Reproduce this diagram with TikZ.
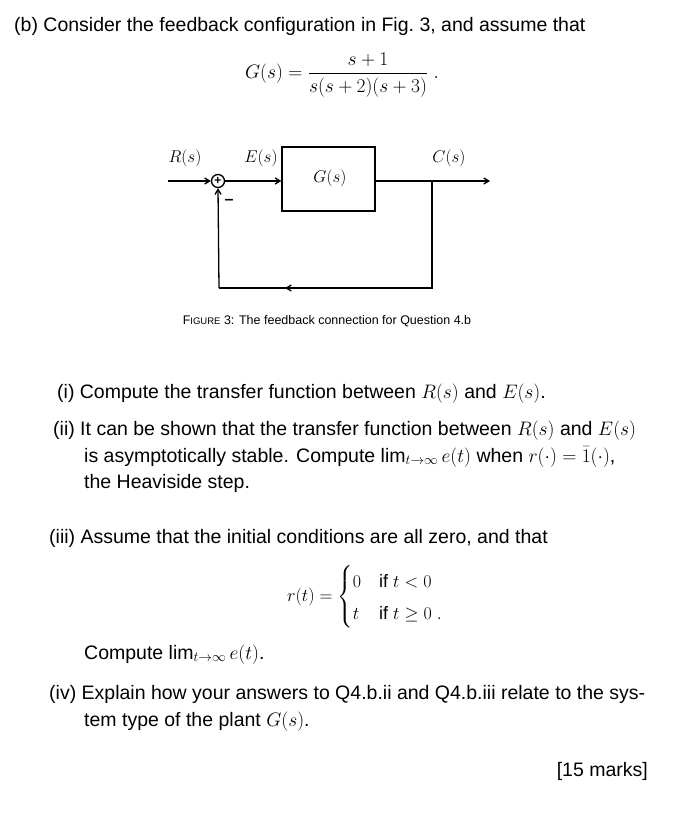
\documentclass[tikz,border=0pt]{standalone}
\usepackage{fix-cm}
\usepackage{amsmath}
\usepackage{fontspec}
\setmainfont{Liberation Sans}
\usetikzlibrary{arrows.meta}
\begin{document}
\begin{tikzpicture}[x=1pt,y=-1pt,
  txt/.style={anchor=base west,inner sep=0pt,font=\fontsize{19.5}{27}\selectfont},
  lab/.style={inner sep=0pt,font=\fontsize{17}{20}\selectfont},
  wire/.style={line width=1.3pt},
  arr/.style={wire,-{Straight Barb[length=5pt,width=6pt]}}]
\useasboundingbox (0,0) rectangle (690,814);
\node[txt] (t1) at (14,31) {(b) Consider the feedback configuration in Fig.~3, and assume that};
\node[inner sep=0pt,font=\fontsize{19.5}{27}\selectfont] (eq1) at (342,75) {$\displaystyle G(s)=\frac{s+1}{s(s+2)(s+3)}\;.$};
% diagram
\coordinate (in) at (168,181);
\node[draw,circle,wire,minimum size=13pt,inner sep=0pt] (sum) at (218,181) {};
\node[font=\fontsize{12}{12}\selectfont\bfseries,inner sep=0pt] (plus) at (218,181) {+};
\node[draw,wire,minimum width=93pt,minimum height=64pt,inner sep=0pt] (G) at (328.5,179) {};
\node[lab] (Gl) at (330,178) {$G(s)$};
\coordinate (branch) at (432,181);
\coordinate (out) at (490,181);
\coordinate (bl) at (219,288);
\coordinate (br) at (432,288);
\coordinate (mid) at (285,288);
\draw[arr] (in) -- (sum.west);
\draw[arr] (sum.east) -- (sum.east -| G.west);
\draw[wire] (sum.east -| G.east) -- (branch);
\draw[arr] (branch) -- (out);
\draw[wire] (branch) -- (br) -- (mid);
\draw[arr] (br) -- (mid);
\draw[wire] (mid) -- (bl);
\draw[arr] (bl) -- (sum.south);
\node[lab] (R) at (185,158) {$R(s)$};
\node[lab] (E) at (261,158) {$E(s)$};
\node[lab] (C) at (449,158) {$C(s)$};
\node[inner sep=0pt,font=\fontsize{16}{16}\selectfont\bfseries] (minus) at (229,202) {--};
\node[inner sep=0pt,font=\fontsize{12.5}{14}\selectfont] (cap) at (327,321) {F{\fontsize{9.5}{9}\selectfont IGURE} 3: The feedback connection for Question 4.b};
% questions
\node[txt] (i) at (57,398) {(i) Compute the transfer function between $R(s)$ and $E(s)$.};
\node[txt] (ii) at (53,435) {(ii) It can be shown that the transfer function between $R(s)$ and $E(s)$};
\node[txt] (ii2) at (84,462) {is asymptotically stable. Compute $\lim_{t\to\infty}e(t)$ when $r(\cdot)=\bar{1}(\cdot)$,};
\node[txt] (ii3) at (84,488) {the Heaviside step.};
\node[txt] (iii) at (49,543) {(iii) Assume that the initial conditions are all zero, and that};
\node[inner sep=0pt,font=\fontsize{18}{27}\selectfont] (eq2) at (365,597) {$r(t)=\begin{cases}0 & \text{if } t<0\\ t & \text{if } t\ge 0\;.\end{cases}$};
\node[txt] (iii2) at (84,659) {Compute $\lim_{t\to\infty}e(t)$.};
\node[txt] (iv) at (49,699) {(iv) Explain how your answers to Q4.b.ii and Q4.b.iii relate to the sys-};
\node[txt] (iv2) at (84,726) {tem type of the plant $G(s)$.};
\node[inner sep=0pt,anchor=base east,font=\fontsize{19.5}{27}\selectfont] (marks) at (648,776) {[15 marks]};
\end{tikzpicture}
\end{document}
